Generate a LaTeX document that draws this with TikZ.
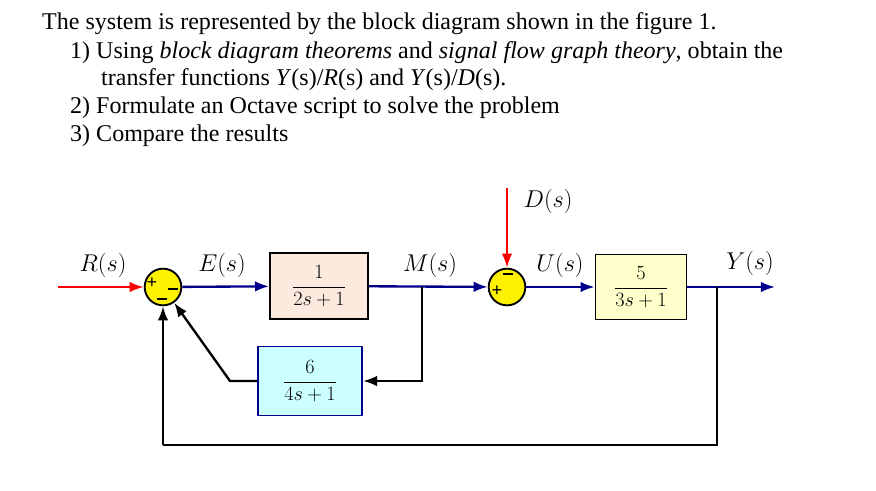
\documentclass[tikz,border=0pt]{standalone}
\usepackage{fontspec}
\setmainfont{Liberation Serif}
\usetikzlibrary{arrows.meta}
\definecolor{navy}{RGB}{0,0,140}
\definecolor{peach}{RGB}{252,234,222}
\definecolor{lcyan}{RGB}{204,255,255}
\definecolor{lyellow}{RGB}{255,255,204}
\tikzset{
  txt/.style={anchor=base west, inner sep=0pt, font=\fontsize{20.5}{24}\selectfont},
  sum/.style={draw, circle, fill=yellow, line width=1.6pt, minimum size=1.1cm, inner sep=0pt},
  blk/.style={draw, line width=1.6pt, minimum width=#1, inner sep=0pt, font=\fontsize{19}{22}\selectfont},
  sig/.style={font=\fontsize{22}{26}\selectfont, inner sep=0pt},
  sgn/.style={font=\bfseries\fontsize{16}{18}\selectfont, inner sep=0pt},
  fw/.style={navy, line width=2pt, -{Latex[length=12pt,width=9pt]}},
  fb/.style={black, line width=2pt, -{Latex[length=12pt,width=9pt]}},
  src/.style={red, line width=2pt, -{Latex[length=12pt,width=9pt]}}
}
\begin{document}
\begin{tikzpicture}[x=0.03cm, y=-0.03cm]
  \useasboundingbox (0,0) rectangle (876,490);

  % problem text
  \node[txt] (l1) at (42,29) {The system is represented by the block diagram shown in the figure 1.};
  \node[txt] (l2) at (70,58) {1)\ Using \emph{block diagram theorems} and \emph{signal flow graph theory}, obtain the};
  \node[txt] (l3) at (101,85) {transfer functions \emph{Y}(s)/\emph{R}(s) and \emph{Y}(s)/\emph{D}(s).};
  \node[txt] (l4) at (70,113) {2)\ Formulate an Octave script to solve the problem};
  \node[txt] (l5) at (70,141) {3)\ Compare the results};

  % blocks
  \node[sum] (s1) at (163,287) {};
  \node[sum] (s2) at (507,287) {};
  \node[blk=2.94cm, minimum height=1.98cm, fill=peach] (g1) at (319,286) {$\displaystyle\frac{1}{2s+1}$};
  \node[blk=2.73cm, minimum height=1.95cm, fill=lyellow] (g2) at (641,287) {$\displaystyle\frac{5}{3s+1}$};
  \node[blk=3.12cm, minimum height=2.07cm, fill=lcyan, draw=navy] (h) at (310,381) {$\displaystyle\frac{6}{4s+1}$};

  % signs
  \node[sgn] at (152,283) {+};
  \node[sgn] at (173,289) {\rule{9pt}{2pt}};
  \node[sgn] at (162,299) {\rule{9pt}{2pt}};
  \node[sgn] at (508,274) {\rule{9pt}{2pt}};
  \node[sgn] at (497,291) {+};

  % points
  \coordinate (rin) at (58,287);
  \coordinate (din) at (507,188);
  \coordinate (yout) at (775,287);
  \coordinate (m) at (422,287);
  \coordinate (y) at (717,287);
  \coordinate (mb) at (422,381);
  \coordinate (hk) at (230,381);
  \coordinate (yb) at (717,445);
  \coordinate (sb) at (163,445);

  % signal labels
  \node[sig] (rs) at (103,265) {$R(s)$};
  \node[sig] (es) at (222,265) {$E(s)$};
  \node[sig] (ms) at (430,265) {$M(s)$};
  \node[sig] (us) at (560,265) {$U(s)$};
  \node[sig] (ys) at (750,263) {$Y(s)$};
  \node[sig] (ds) at (548,201) {$D(s)$};

  % connections
  \draw[src] (rin) -- (s1);
  \draw[src] (din) -- (s2);
  \draw[fw] (s1) -- (g1);
  \draw[fw] (g1) -- (s2);
  \draw[fw] (s2) -- (g2);
  \draw[fw] (g2) -- (yout);
  \draw[fb] (m) -- (mb) -- (h);
  \draw[fb] (h) -- (hk) -- (s1);
  \draw[fb, -] (y) -- (yb) -- (sb);
  \draw[fb] (sb) -- (s1);
\end{tikzpicture}
\end{document}
